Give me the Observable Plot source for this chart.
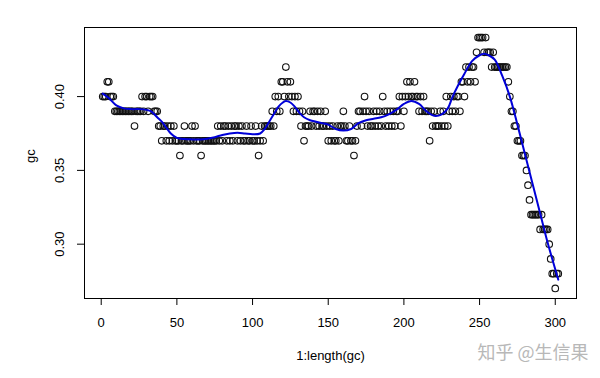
<!DOCTYPE html>
<html>
<head>
<meta charset="utf-8">
<script src="https://cdn.jsdelivr.net/npm/d3@7"></script>
<script src="https://cdn.jsdelivr.net/npm/@observablehq/plot@0.6"></script>
<style>
  html, body { margin: 0; padding: 0; background: #fff; }
  #chart { width: 600px; height: 378px; }
</style>
</head>
<body>
<div id="chart"></div>
<script>
// GC content per window (index 1..302)
const gcValues = [
  .40,.40,.40,.41,.41,.40,.40,.40,.39,.39,
  .39,.39,.39,.39,.39,.39,.39,.39,.39,.39,
  .39,.38,.39,.39,.39,.39,.40,.39,.40,.40,
  .39,.40,.40,.40,.39,.39,.39,.38,.38,.37,
  .38,.38,.37,.38,.37,.38,.37,.38,.37,.37,
  .37,.36,.37,.37,.38,.37,.37,.37,.37,.38,
  .37,.38,.37,.37,.37,.36,.37,.37,.37,.37,
  .37,.37,.37,.37,.37,.37,.38,.37,.38,.37,
  .38,.38,.37,.38,.37,.38,.37,.38,.38,.37,
  .38,.37,.38,.37,.37,.38,.37,.37,.38,.37,
  .37,.38,.37,.36,.37,.38,.37,.38,.38,.38,
  .38,.38,.39,.38,.40,.39,.40,.39,.41,.41,
  .40,.42,.41,.40,.41,.40,.39,.40,.39,.40,
  .39,.38,.39,.37,.38,.38,.38,.39,.38,.39,
  .39,.38,.39,.38,.39,.38,.38,.39,.38,.37,
  .38,.37,.38,.37,.37,.38,.37,.38,.38,.39,
  .38,.37,.37,.38,.37,.37,.36,.37,.38,.39,
  .39,.38,.39,.40,.39,.38,.39,.38,.38,.39,
  .38,.39,.38,.39,.38,.40,.39,.38,.39,.38,
  .39,.38,.39,.38,.39,.39,.40,.38,.40,.39,
  .40,.41,.40,.41,.40,.40,.41,.40,.40,.39,
  .40,.39,.40,.39,.39,.39,.37,.39,.38,.39,
  .38,.38,.38,.39,.38,.39,.38,.40,.38,.39,
  .40,.39,.40,.39,.40,.40,.39,.41,.41,.40,
  .42,.41,.42,.41,.42,.42,.41,.43,.44,.44,
  .44,.44,.43,.44,.43,.43,.43,.42,.43,.42,
  .42,.42,.42,.42,.42,.42,.42,.42,.41,.40,
  .39,.39,.38,.38,.37,.37,.37,.36,.36,.36,
  .35,.34,.33,.32,.32,.32,.32,.32,.32,.31,
  .32,.31,.31,.31,.31,.30,.29,.28,.28,.27,
  .28,.28
];

// Smoothed curve (blue line)
const smoothIndex = [1,5,10,15,20,25,30,33,37,40,43,46,50,55,60,65,70,75,80,85,90,95,100,105,108,111,114,117,120,122,125,128,131,134,138,142,146,150,155,160,165,170,175,180,185,190,195,200,205,210,215,220,225,229,232,236,240,245,250,253,256,260,265,270,275,280,285,290,295,300,302];
const smoothValues = [0.402,0.399,0.394,0.392,0.3915,0.3915,0.391,0.390,0.386,0.383,0.379,0.375,0.372,0.3712,0.371,0.371,0.3715,0.3725,0.374,0.375,0.3755,0.375,0.3745,0.375,0.378,0.383,0.388,0.393,0.396,0.397,0.396,0.393,0.389,0.386,0.384,0.383,0.382,0.381,0.378,0.377,0.378,0.382,0.384,0.385,0.386,0.388,0.391,0.395,0.397,0.395,0.390,0.387,0.388,0.392,0.3995,0.408,0.4155,0.424,0.428,0.429,0.428,0.425,0.414,0.400,0.381,0.361,0.341,0.321,0.301,0.283,0.276];

const xTicks = [0, 50, 100, 150, 200, 250, 300];
const yTicks = [0.30, 0.35, 0.40];
const xTitle = "1:length(gc)";
const yTitle = "gc";
const watermark = "知乎 @生信果";

const points = gcValues.map((v, k) => ({i: k + 1, gc: v}));
const smooth = smoothIndex.map((x, k) => ({i: x, gc: smoothValues[k]}));

const n = gcValues.length;
const xpad = 0.04 * (n - 1);
const ymin = d3.min(gcValues), ymax = d3.max(gcValues);
const ypad = 0.04 * (ymax - ymin);

const chart = Plot.plot({
  width: 600,
  height: 378,
  marginLeft: 84,
  marginRight: 24,
  marginTop: 27,
  marginBottom: 80,
  style: {fontFamily: "'Liberation Sans', Arial, sans-serif", fontSize: "13px", background: "#fff", color: "#000"},
  x: {domain: [1 - xpad, n + xpad], axis: null},
  y: {domain: [ymin - ypad, ymax + ypad], axis: null},
  marks: [
    Plot.dot(points, {x: "i", y: "gc", r: 3.3, stroke: "#111", strokeWidth: 1.1, fill: "none"}),
    Plot.line(smooth, {x: "i", y: "gc", stroke: "#0000d8", strokeWidth: 2, curve: "catmull-rom"}),
    Plot.frame({stroke: "#000", strokeWidth: 1}),
    Plot.axisX(xTicks, {tickSize: 7, tickPadding: 12, stroke: "#000", fontSize: 13, fill: "#000", label: null}),
    Plot.axisY(yTicks, {tickSize: 7, tickFormat: () => "", stroke: "#000", label: null}),
    Plot.text(yTicks, {y: d => d, frameAnchor: "left", dx: -25, rotate: -90, text: d => d.toFixed(2), fontSize: 13, fill: "#000", textAnchor: "middle"}),
    Plot.text([xTitle], {frameAnchor: "bottom", dy: 61, text: d => d, fontSize: 13, fill: "#000"}),
    Plot.text([yTitle], {frameAnchor: "left", dx: -54, rotate: -90, text: d => d, fontSize: 13, fill: "#000"}),
    Plot.text([watermark], {frameAnchor: "bottom-right", dx: 12, dy: 60, text: d => d, textAnchor: "end", fontSize: 18, fill: "#b8b8b8", fontFamily: "'Noto Sans CJK SC', sans-serif"})
  ]
});
document.getElementById("chart").appendChild(chart);
</script>
</body>
</html>
